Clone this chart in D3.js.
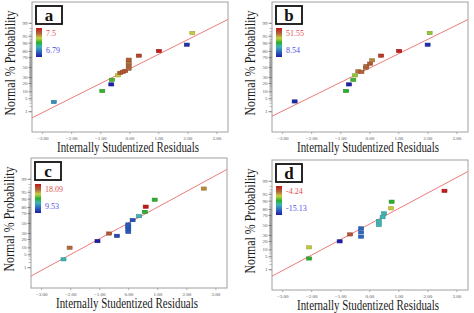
<!DOCTYPE html>
<html>
<head>
<meta charset="utf-8">
<script src="https://cdn.jsdelivr.net/npm/d3@7"></script>
<style>
  body { margin: 0; background: #fff; }
  svg { display: block; }
</style>
</head>
<body>
<div id="chart"></div>
<script>
// panel letters and colour-legend ranges
const panelNames = ["a", "b", "c", "d"];
const legendMax = [7.5, 51.55, 18.09, -4.24];
const legendMin = [6.79, 8.54, 9.53, -15.13];
const legendMaxText = ["7.5", "51.55", "18.09", "-4.24"];
const legendMinText = ["6.79", "8.54", "9.53", "-15.13"];

// internally studentized residuals, normal % probability, response value (colour)
const resA = [-2.60, -0.93, -0.62, -0.60, -0.39, -0.31, -0.22, -0.14, -0.02, -0.02, -0.02, -0.02, 0.33, 1.02, 1.98, 2.17];
const probA = [3.3, 10.4, 18, 25, 33, 38, 40, 42, 46.5, 53.5, 59, 65, 72.5, 80, 88, 96.3];
const valA = [6.98, 7.15, 6.80, 7.16, 7.26, 7.39, 7.38, 7.40, 7.36, 7.37, 7.35, 7.38, 7.43, 7.49, 6.83, 7.26];

const resB = [-2.57, -0.80, -0.70, -0.55, -0.49, -0.38, -0.27, -0.12, -0.10, 0.03, 0.10, 0.41, 1.03, 2.01, 2.08];
const probB = [3.5, 10.4, 18, 25, 33, 41, 40, 48.6, 52, 57, 63.7, 72.5, 80, 88, 96.3];
const valB = [9.83, 30.05, 9.40, 30.90, 34.35, 42.09, 44.24, 43.81, 42.95, 44.67, 41.23, 48.11, 51.12, 10.26, 34.35];

const resC = [-2.23, -2.02, -1.06, -0.66, -0.39, 0.00, 0.00, 0.00, 0.00, 0.15, 0.37, 0.57, 0.60, 0.91, 2.60];
const probC = [2.8, 9.7, 17, 29, 25, 32, 38, 42, 47, 56, 64, 72, 80.5, 89, 96.5];
const valC = [12.53, 16.38, 9.53, 16.81, 10.39, 10.81, 10.81, 10.81, 10.81, 10.56, 12.53, 13.81, 18.09, 13.81, 15.95];

const resD = [-2.07, -2.07, -1.02, -0.66, -0.28, -0.28, -0.28, 0.33, 0.33, 0.46, 0.51, 0.75, 0.77, 2.59];
const probD = [3.9, 12, 19.5, 31, 27, 35, 43, 50, 58, 66, 73, 81, 89, 96.4];
const valD = [-9.69, -7.94, -15.13, -5.87, -13.17, -13.17, -13.17, -11.32, -11.32, -11.32, -11.32, -7.94, -9.69, -4.35];

// reference line: % probability at residual -3 and +3
const lineRes = [-3, 3];
const lineProb = [[0.8, 98.6], [1.0, 98.6], [0.62, 99.36], [0.8, 99.36]];

const xTicks = [-3, -2, -1, 0, 1, 2, 3];
const probTicks = [1, 5, 10, 20, 30, 50, 70, 80, 90, 95, 99];
const probMinor = d3.range(1, 100);

const panelData = [
    { res: resA, prob: probA, val: valA },
    { res: resB, prob: probB, val: valB },
    { res: resC, prob: probC, val: valC },
    { res: resD, prob: probD, val: valD }
];

// layout
const W = 474, H = 313;
const panelX = [0, 240, -1, 240];
const panelY = [0, 0, 156, 158];
const frame = { left: 32, right: 228, top: 2, bottom: 132 };

// inverse normal CDF (Acklam)
function probit(p) {
    const a = [-3.969683028665376e+01, 2.209460984245205e+02, -2.759285104469687e+02, 1.383577518672690e+02, -3.066479806614716e+01, 2.506628277459239e+00];
    const b = [-5.447609879822406e+01, 1.615858368580409e+02, -1.556989798598866e+02, 6.680131188771972e+01, -1.328068155288572e+01];
    const c = [-7.784894002430293e-03, -3.223964580411365e-01, -2.400758277161838e+00, -2.549732539343734e+00, 4.374664141464968e+00, 2.938163982698783e+00];
    const d = [7.784695709041462e-03, 3.224671290700398e-01, 2.445134137142996e+00, 3.754408661907416e+00];
    const pl = 0.02425, ph = 1 - pl;
    if (p < pl) {
        const q = Math.sqrt(-2 * Math.log(p));
        return (((((c[0] * q + c[1]) * q + c[2]) * q + c[3]) * q + c[4]) * q + c[5]) / ((((d[0] * q + d[1]) * q + d[2]) * q + d[3]) * q + 1);
    }
    if (p > ph) {
        const q = Math.sqrt(-2 * Math.log(1 - p));
        return -(((((c[0] * q + c[1]) * q + c[2]) * q + c[3]) * q + c[4]) * q + c[5]) / ((((d[0] * q + d[1]) * q + d[2]) * q + d[3]) * q + 1);
    }
    const q = p - 0.5, r = q * q;
    return (((((a[0] * r + a[1]) * r + a[2]) * r + a[3]) * r + a[4]) * r + a[5]) * q / (((((b[0] * r + b[1]) * r + b[2]) * r + b[3]) * r + b[4]) * r + 1);
}

// colour gradient (blue -> green -> red)
const gradStops = [0, 0.2, 0.35, 0.5, 0.65, 0.8, 1];
const gradColors = ["#1c1ca8", "#2f6fc0", "#3cb4b4", "#2cb02c", "#c8d040", "#b06a3c", "#c01818"];
const grad = d3.scaleLinear().domain(gradStops).range(gradColors).interpolate(d3.interpolateRgb).clamp(true);

const svg = d3.select("#chart").append("svg")
    .attr("width", W)
    .attr("height", H)
    .attr("viewBox", [0, 0, W, H]);

svg.append("rect").attr("width", W).attr("height", H).attr("fill", "#fff");

const defs = svg.append("defs");
const lg = defs.append("linearGradient")
    .attr("id", "legendGrad")
    .attr("x1", 0).attr("y1", 1).attr("x2", 0).attr("y2", 0);
gradStops.forEach((s, i) => {
    lg.append("stop").attr("offset", s).attr("stop-color", gradColors[i]);
});

const x = d3.scaleLinear().domain([-3.35, 3.4]).range([frame.left, frame.right]);
const yz = d3.scaleLinear().domain([-3.42, 3.42]).range([frame.bottom, frame.top]);
const y = p => yz(probit(p / 100));

panelNames.forEach((name, k) => {
    const g = svg.append("g").attr("transform", `translate(${panelX[k]},${panelY[k]})`);
    const pd = panelData[k];

    g.append("defs").append("clipPath").attr("id", "clip" + k)
        .append("rect")
        .attr("x", frame.left).attr("y", frame.top)
        .attr("width", frame.right - frame.left).attr("height", frame.bottom - frame.top);

    // minor ticks on probability axis
    g.append("g")
        .attr("transform", `translate(${frame.left},0)`)
        .call(d3.axisLeft(yz).tickValues(probMinor.map(p => probit(p / 100))).tickSize(2.5).tickFormat(""))
        .call(a => a.select(".domain").remove())
        .call(a => a.selectAll("line").attr("stroke", "#777").attr("stroke-width", 0.5));

    // major ticks and labels
    g.append("g")
        .attr("transform", `translate(${frame.left},0)`)
        .call(d3.axisLeft(yz).tickValues(probTicks.map(p => probit(p / 100)))
            .tickFormat((d, i) => probTicks[i]).tickSize(3.5).tickPadding(1))
        .call(a => a.select(".domain").remove())
        .call(a => a.selectAll("line").attr("stroke", "#555").attr("stroke-width", 0.6))
        .call(a => a.selectAll("text")
            .attr("font-family", "Liberation Serif, serif")
            .attr("font-size", 5)
            .attr("fill", "#555"));

    g.append("g")
        .attr("transform", `translate(0,${frame.bottom})`)
        .call(d3.axisBottom(x).tickValues(xTicks).tickFormat(d3.format(".2f")).tickSize(2).tickPadding(2))
        .call(a => a.select(".domain").remove())
        .call(a => a.selectAll("line").attr("stroke", "#777").attr("stroke-width", 0.6))
        .call(a => a.selectAll("text")
            .attr("font-family", "Liberation Serif, serif")
            .attr("font-size", 5)
            .attr("fill", "#555"));

    // frame
    g.append("rect")
        .attr("x", frame.left).attr("y", frame.top)
        .attr("width", frame.right - frame.left).attr("height", frame.bottom - frame.top)
        .attr("fill", "none")
        .attr("stroke", "#a0a0a0")
        .attr("stroke-width", 1);

    // reference line extended across the frame
    const z0 = probit(lineProb[k][0] / 100), z1 = probit(lineProb[k][1] / 100);
    const slope = (z1 - z0) / (lineRes[1] - lineRes[0]);
    const xd = x.domain();
    g.append("line")
        .attr("clip-path", `url(#clip${k})`)
        .attr("x1", x(xd[0])).attr("y1", yz(z0 + slope * (xd[0] - lineRes[0])))
        .attr("x2", x(xd[1])).attr("y2", yz(z0 + slope * (xd[1] - lineRes[0])))
        .attr("stroke", "#ee7b7b")
        .attr("stroke-width", 1);

    // points
    const cmin = legendMin[k], cmax = legendMax[k];
    const pts = pd.res.map((r, i) => ({ res: r, prob: pd.prob[i], val: pd.val[i] }));
    g.append("g")
        .selectAll("rect")
        .data(pts)
        .join("rect")
        .attr("x", d => x(d.res) - 2.5)
        .attr("y", d => y(d.prob) - 1.6)
        .attr("width", 5)
        .attr("height", 3.2)
        .attr("fill", d => grad((d.val - cmin) / (cmax - cmin)))
        .attr("stroke", d => d3.color(grad((d.val - cmin) / (cmax - cmin))).darker(0.6))
        .attr("stroke-width", 0.6);

    // panel letter
    g.append("rect")
        .attr("x", 36).attr("y", 6).attr("width", 26).attr("height", 18)
        .attr("fill", "#fff")
        .attr("stroke", "#111")
        .attr("stroke-width", 1.8);
    g.append("text")
        .attr("x", 49).attr("y", 20.5)
        .attr("text-anchor", "middle")
        .attr("font-family", "Liberation Serif, serif")
        .attr("font-weight", "bold")
        .attr("font-size", 17)
        .attr("fill", "#111")
        .text(name);

    // colour legend
    g.append("rect")
        .attr("x", 36).attr("y", 28).attr("width", 6).attr("height", 29)
        .attr("fill", "url(#legendGrad)");
    g.append("text")
        .attr("x", 46).attr("y", 35.5)
        .attr("font-family", "Liberation Serif, serif")
        .attr("font-size", 8)
        .attr("fill", "#e05050")
        .text(legendMaxText[k]);
    g.append("text")
        .attr("x", 46).attr("y", 52.5)
        .attr("font-family", "Liberation Serif, serif")
        .attr("font-size", 8)
        .attr("fill", "#5050e0")
        .text(legendMinText[k]);

    // axis titles
    g.append("text")
        .attr("x", 128).attr("y", 151.5)
        .attr("text-anchor", "middle")
        .attr("font-family", "Liberation Serif, serif")
        .attr("font-size", 14)
        .attr("textLength", 142)
        .attr("lengthAdjust", "spacingAndGlyphs")
        .attr("fill", "#1a1a1a")
        .text("Internally Studentized Residuals");
    g.append("text")
        .attr("transform", "translate(14.5,63) rotate(-90)")
        .attr("text-anchor", "middle")
        .attr("font-family", "Liberation Serif, serif")
        .attr("font-size", 14)
        .attr("textLength", 105)
        .attr("lengthAdjust", "spacingAndGlyphs")
        .attr("fill", "#1a1a1a")
        .text("Normal % Probability");
});
</script>
</body>
</html>
